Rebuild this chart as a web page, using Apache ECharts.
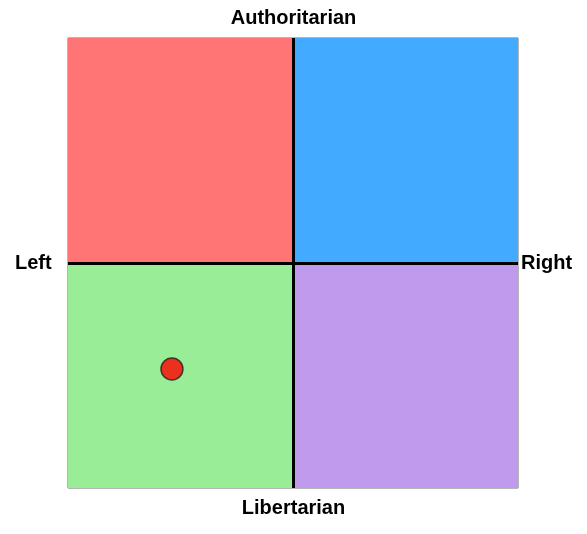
<!DOCTYPE html>
<html><head><meta charset="utf-8">
<script src="https://cdn.jsdelivr.net/npm/echarts@6/dist/echarts.min.js"></script>
<style>html,body{margin:0;background:#fff}#c{width:587px;height:534px}</style>
</head><body><div id="c"></div>
<script>
// economic (x) / social (y) score
var point = [-5.38, -4.71];
var quadrants = [
  { name: 'authLeft', from: [-10, 0], to: [0, 10], color: '#ff7575' },
  { name: 'authRight', from: [0, 0], to: [10, 10], color: '#42aaff' },
  { name: 'libLeft', from: [-10, -10], to: [0, 0], color: '#9aed97' },
  { name: 'libRight', from: [0, -10], to: [10, 0], color: '#c09aec' }
];
var labels = { top: 'Authoritarian', bottom: 'Libertarian', left: 'Left', right: 'Right' };

var chart = echarts.init(document.getElementById('c'));
var lbl = { color: '#888', fontSize: 20, fontWeight: 'bold', fontFamily: 'Liberation Sans' };
var axisCommon = {
  type: 'value', min: -10, max: 10, interval: 1,
  axisLabel: { show: false }, axisTick: { show: false }, axisLine: { show: false },
  splitLine: { show: true, lineStyle: { color: '#b5b5b5', width: 2 } }
};
chart.setOption({
  backgroundColor: '#fff',
  animation: false,
  grid: { left: 68, top: 38, width: 450, height: 450 },
  graphic: [
    { type: 'text', left: 'center', top: 8, style: Object.assign({ text: labels.top }, lbl) },
    { type: 'text', left: 'center', top: 498, style: Object.assign({ text: labels.bottom }, lbl) },
    { type: 'text', left: 15, top: 253, style: Object.assign({ text: labels.left }, lbl) },
    { type: 'text', left: 521, top: 253, style: Object.assign({ text: labels.right }, lbl) }
  ],
  xAxis: axisCommon,
  yAxis: axisCommon,
  series: [
    {
      type: 'scatter', z: 1, data: [], silent: true,
      markArea: {
        silent: true,
        data: quadrants.map(function (q) {
          return [{ coord: q.from, itemStyle: { color: q.color, opacity: 1 } }, { coord: q.to }];
        })
      }
    },
    {
      type: 'line', z: 3, data: [], silent: true,
      markLine: {
        silent: true, symbol: 'none', label: { show: false },
        lineStyle: { color: '#000', width: 3, type: 'solid' },
        data: [{ xAxis: 0 }, { yAxis: 0 }]
      }
    },
    {
      type: 'scatter', z: 5, symbolSize: 22, data: [point],
      itemStyle: { color: '#ff0000', borderColor: '#222', borderWidth: 1.5 }
    }
  ]
});
</script></body></html>
